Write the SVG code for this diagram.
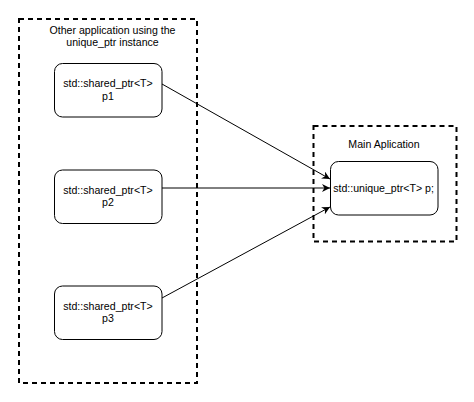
<svg xmlns="http://www.w3.org/2000/svg" width="474" height="402" viewBox="0 0 474 402">
<defs>
<style>
.frame{fill:none;stroke:#000;stroke-width:2;stroke-dasharray:5 4}
.node{fill:#fff;stroke:#000;stroke-width:1}
.t{font-family:"Liberation Sans",Arial,sans-serif;font-size:10.6px;fill:#000;text-anchor:middle}
.edge{fill:none;stroke:#000;stroke-width:1}
</style>
<marker id="arr" viewBox="0 0 10 10" refX="10" refY="5" markerWidth="8" markerHeight="8" markerUnits="userSpaceOnUse" orient="auto">
<path d="M0,0 L10,5 L0,10 L3,5 Z" fill="#000"/>
</marker>
</defs>
<rect width="474" height="402" fill="#fff"/>
<g id="other-app">
<rect class="frame" x="19" y="19" width="178" height="364"/>
<text class="t" x="112.5" y="34">Other application using the</text>
<text class="t" x="112.5" y="46">unique_ptr instance</text>
</g>
<g id="main-app">
<rect class="frame" x="313.5" y="126" width="143" height="115.5"/>
<text class="t" x="384" y="148">Main Aplication</text>
</g>
<g id="p1">
<rect class="node" x="54.5" y="63.5" width="107.5" height="53.5" rx="8"/>
<text class="t" x="108" y="87">std::shared_ptr&lt;T&gt;</text>
<text class="t" x="108" y="99.5">p1</text>
</g>
<g id="p2">
<rect class="node" x="54.5" y="170" width="107.5" height="53.5" rx="8"/>
<text class="t" x="108" y="193.5">std::shared_ptr&lt;T&gt;</text>
<text class="t" x="108" y="206">p2</text>
</g>
<g id="p3">
<rect class="node" x="54.5" y="286" width="107.5" height="53.5" rx="8"/>
<text class="t" x="108" y="309.5">std::shared_ptr&lt;T&gt;</text>
<text class="t" x="108" y="322">p3</text>
</g>
<g id="unique">
<rect class="node" x="330.5" y="161.5" width="107.5" height="53.5" rx="8"/>
<text class="t" x="383.5" y="192">std::unique_ptr&lt;T&gt; p;</text>
</g>
<g id="connectors">
<line class="edge" x1="162" y1="84" x2="330" y2="179" marker-end="url(#arr)"/>
<line class="edge" x1="162" y1="188" x2="330" y2="188" marker-end="url(#arr)"/>
<line class="edge" x1="162" y1="298" x2="330" y2="207" marker-end="url(#arr)"/>
</g>
</svg>
